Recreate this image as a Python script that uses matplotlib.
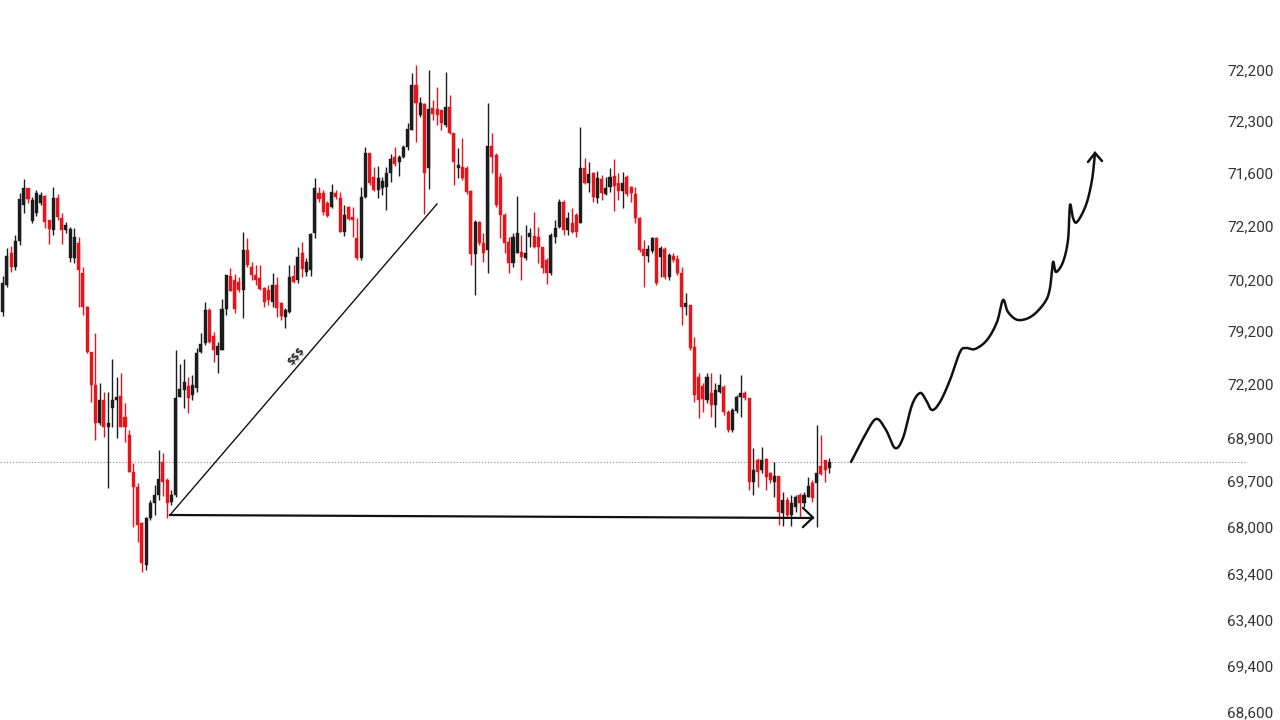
import numpy as np
import matplotlib
matplotlib.use("Agg")
import matplotlib.pyplot as plt

# ---- candle data (chart units: vertical screen level, axis inverted) ----
opens = [312,285,253,267,241,205,188,221,213,203,196,220,230,198,218,230,258,258,243,273,307,
         352,385,423,400,427,408,400,396,417,435,472,487,523,565,518,503,495,462,480,502,
         495,397,390,386,395,388,352,343,310,336,355,350,309,276,280,282,290,250,267,275,
         278,288,290,302,285,303,317,312,276,280,253,272,270,233,193,193,203,207,193,198,
         232,207,217,238,258,197,153,177,190,188,187,173,157,162,157,147,130,85,115,104,
         168,108,109,110,125,107,133,168,167,168,191,254,222,243,250,146,155,177,215,242,
         263,253,252,258,237,236,237,247,260,273,237,227,202,230,223,215,223,168,183,173,
         198,179,194,187,176,183,191,177,187,194,218,249,256,251,238,257,249,277,256,259,
         273,307,305,347,377,386,400,393,405,392,387,412,430,411,397,393,398,482,460,470,
         459,473,482,476,513,500,515,507,495,503,497,483,483,466,460,468]
closes = [283,256,267,241,199,188,199,200,193,195,222,229,198,217,230,225,229,237,270,307,352,
          385,423,400,427,423,400,397,427,427,472,487,525,563,518,503,495,479,482,503,495,
          398,389,382,398,385,353,344,310,342,350,346,309,275,291,309,290,250,265,275,280,
          289,302,300,285,308,316,310,277,282,257,269,262,234,188,199,212,216,192,197,232,
          215,219,220,258,197,153,183,190,178,181,173,159,164,157,147,129,85,103,103,173,
          109,114,115,123,107,133,162,165,178,192,254,222,243,253,146,157,205,215,243,263,
          237,233,257,253,233,247,247,268,273,235,228,202,230,218,232,232,168,183,174,197,
          178,193,188,177,186,191,183,194,193,218,250,256,249,238,283,248,277,255,260,273,
          307,303,348,395,400,399,377,405,390,385,412,430,410,397,393,398,482,470,472,460,
          477,480,476,512,500,515,503,497,503,495,486,498,473,474,470,462]
highs = [276,248,246,235,193,179,188,197,190,192,195,220,187,194,213,222,227,228,237,267,306,
         352,333,383,392,392,359,377,373,403,430,463,483,522,517,500,485,450,453,478,490,
         350,364,359,377,375,348,333,302,308,332,342,299,275,268,274,277,232,238,262,265,
         265,287,285,273,277,302,308,265,265,247,242,258,233,178,187,190,201,184,190,192,
         205,206,207,218,187,147,153,167,166,177,167,154,147,155,145,123,73,65,97,103,
         70,100,87,110,72,95,133,148,138,166,190,220,221,233,103,133,153,173,213,237,
         233,196,235,225,228,212,227,247,258,233,220,199,200,212,208,213,127,158,162,172,
         171,175,177,168,159,173,172,175,186,187,217,240,245,237,237,246,247,253,253,255,
         267,293,305,337,373,383,373,373,383,374,385,410,408,395,375,391,398,448,458,447,
         458,472,462,476,492,497,495,495,493,492,477,480,425,435,460,458]
lows = [316,287,272,270,245,213,203,223,216,205,228,244,235,220,244,233,262,263,307,315,353,
        402,440,425,437,488,427,438,427,442,472,527,542,572,570,520,515,500,496,518,505,
        497,397,408,413,400,392,353,345,343,362,373,350,315,291,313,292,318,267,280,285,
        290,307,305,307,317,320,328,313,283,283,277,276,276,238,202,215,217,208,199,232,
        236,220,237,260,260,198,185,191,198,195,210,182,166,176,158,150,130,142,117,214,
        189,120,125,130,127,134,185,178,180,194,265,295,245,262,273,173,207,238,253,273,
        267,253,280,260,247,248,263,273,284,275,243,228,235,235,233,237,223,184,192,202,
        203,200,195,192,211,200,208,196,202,223,252,287,262,253,285,277,279,280,262,275,
        325,315,350,402,418,412,403,417,427,393,415,432,432,413,417,400,490,495,487,473,
        490,483,497,525,526,518,526,512,517,507,497,502,527,475,482,473]

tick_levels = [70, 121, 173, 226, 280, 331, 384, 438, 481, 527, 574, 620, 666, 712]
tick_labels = ["72,200", "72,300", "71,600", "72,200", "70,200", "79,200", "72,200",
               "68,900", "69,700", "68,000", "63,400", "63,400", "69,400", "68,600"]
current_level = 462

UP = "#1c1c1c"
DOWN = "#e8141c"

W, H = 1280, 720
fig = plt.figure(figsize=(12.8, 7.2), dpi=100)
fig.patch.set_facecolor("white")

ax_right = 1222
ax = fig.add_axes([0, 0, ax_right / W, 1])
n = len(opens)
x0 = 2.7
step = (829.3 - x0) / (n - 1)
ax.set_xlim(-x0 / step, (ax_right - x0) / step)
ax.set_ylim(720, 0)

o = np.array(opens, float); c = np.array(closes, float)
h = np.array(highs, float); l = np.array(lows, float)
idx = np.arange(n)
up = c <= o  # closes higher on chart
cols = np.where(up, UP, DOWN)

ax.vlines(idx, np.minimum(h, np.minimum(o, c)), np.maximum(l, np.maximum(o, c)),
          colors=cols, linewidth=1.0, zorder=2)
body_low = np.minimum(o, c)
body_h = np.maximum(np.abs(o - c), 1.2)
ax.bar(idx, body_h, bottom=body_low, width=0.72, color=cols, edgecolor=cols,
       linewidth=0.3, zorder=3)

ax.axhline(current_level, xmin=0, xmax=1.02, color="#9a9a9a", linestyle=(0, (1, 1.5)),
           linewidth=0.9, clip_on=False, zorder=1)

ax.yaxis.tick_right()
ax.set_yticks(tick_levels)
ax.set_yticklabels(tick_labels)
ax.tick_params(axis="y", length=0, pad=3.8, labelsize=11, labelcolor="#333333")
for t in ax.get_yticklabels():
    t.set_fontfamily("Roboto")
ax.set_xticks([])
for s in ax.spines.values():
    s.set_visible(False)

# ---- drawing overlay (screen-space annotations) ----
ov = fig.add_axes([0, 0, 1, 1], zorder=5)
ov.set_xlim(0, W); ov.set_ylim(H, 0); ov.axis("off"); ov.patch.set_alpha(0)

ov.plot([170, 437], [515, 204], color="#111111", linewidth=1.0)
ov.plot([170, 813], [515, 518], color="#111111", linewidth=1.6)
ov.plot([803, 813, 803], [508, 517.5, 527], color="#111111", linewidth=1.6)
ov.text(296, 356, "$$$", rotation=49.4, fontsize=7, fontweight="bold",
        ha="center", va="center", color="#222222")

pts = np.array([[851, 462], [864, 437], [876, 419], [886, 430], [895, 448], [903, 438],
                [912, 405], [920, 393], [926, 400], [932, 410], [940, 402], [950, 380],
                [960, 352], [966, 348], [975, 349], [987, 340], [997, 322], [1003, 300],
                [1008, 312], [1018, 320], [1032, 316], [1045, 302], [1050, 288], [1053, 262],
                [1056, 272], [1063, 262], [1068, 240], [1070, 205], [1073, 218], [1077, 222],
                [1086, 205], [1092, 180], [1095, 153]], float)

def catmull(p, k=12):
    p = np.vstack([p[0], p, p[-1]])
    out = []
    for i in range(1, len(p) - 2):
        p0, p1, p2, p3 = p[i - 1], p[i], p[i + 1], p[i + 2]
        for t in np.linspace(0, 1, k, endpoint=False):
            t2, t3 = t * t, t * t * t
            out.append(0.5 * ((2 * p1) + (-p0 + p2) * t + (2 * p0 - 5 * p1 + 4 * p2 - p3) * t2
                              + (-p0 + 3 * p1 - 3 * p2 + p3) * t3))
    out.append(p[-2])
    return np.array(out)

cv = catmull(pts)
ov.plot(cv[:, 0], cv[:, 1], color="#111111", linewidth=1.8, solid_capstyle="round")
ov.plot([1088, 1095, 1102], [162, 153, 161], color="#111111", linewidth=1.8,
        solid_capstyle="round", solid_joinstyle="miter")

fig.savefig("out.png", dpi=100, facecolor="white")
